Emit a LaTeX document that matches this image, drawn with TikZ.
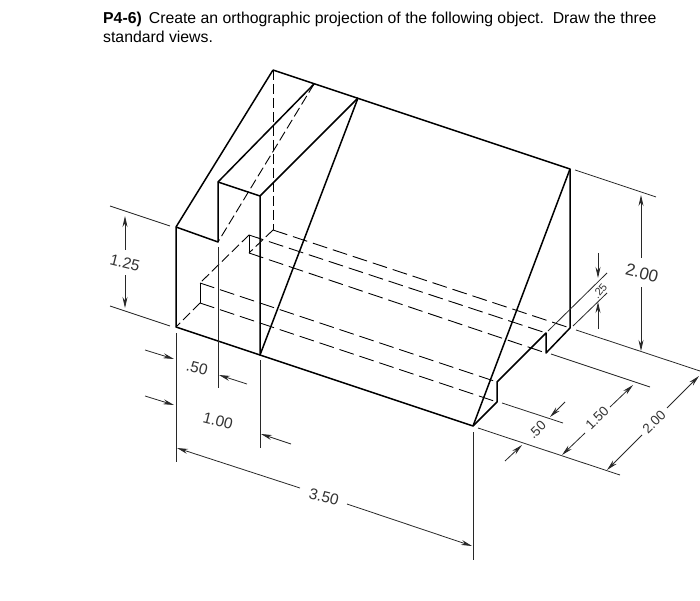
\documentclass[tikz,border=0pt]{standalone}
\usepackage{fontspec}
\setmainfont{Liberation Sans}
\usepackage{tikz}
\usetikzlibrary{arrows.meta}
\definecolor{edge_dim}{RGB}{40,40,40}
\definecolor{text_dim}{RGB}{50,50,50}

\begin{document}
\begin{tikzpicture}[x=1pt,y=-1pt,>={Stealth[length=11pt,width=5pt]}]
    \tikzstyle{obj}=[draw=black, line width=1.5pt, line join=round]
    \tikzstyle{hid}=[draw=black, line width=0.9pt, dash pattern=on 15pt off 6pt]
    \tikzstyle{hidshort}=[draw=black, line width=0.9pt, dash pattern=on 10pt off 4pt]
    \tikzstyle{dim}=[draw=edge_dim, line width=0.8pt]
    \tikzstyle{val}=[text=text_dim, inner sep=0pt, rotate=-14, font=\fontsize{15.5}{17}\selectfont]
    \tikzstyle{valdepth}=[text=text_dim, inner sep=0pt, rotate=45, font=\fontsize{13.5}{15}\selectfont]

    \useasboundingbox (0,0) rectangle (700,601);

    \node[anchor=north west, align=left, inner sep=0pt, font=\fontsize{15.8}{19}\selectfont] (title) at (103,12)
      {\textbf{P4-6)}\, Create an orthographic projection of the following object.\ \ Draw the three\\standard views.};

    % corners of the object
    \coordinate (back)   at (273,70);
    \coordinate (notch)  at (314,84);
    \coordinate (ridge)  at (358,98);
    \coordinate (topr)   at (570,169);
    \coordinate (left)   at (176,227);
    \coordinate (step)   at (218,242);
    \coordinate (stepa)  at (218,182);
    \coordinate (stepb)  at (260,196);
    \coordinate (botl)   at (176,327);
    \coordinate (botm)   at (260,355);
    \coordinate (botr)   at (473,426);
    \coordinate (r1)     at (570,328);
    \coordinate (r2)     at (546,353);
    \coordinate (r3)     at (546,333);
    \coordinate (r4)     at (497,382);
    \coordinate (r5)     at (497,402);
    % hidden corners
    \coordinate (h1)     at (273,230);
    \coordinate (h2)     at (249,235);
    \coordinate (h3)     at (249,253);
    \coordinate (h4)     at (200,283);
    \coordinate (h5)     at (200,303);

    \path[obj] (back) -- (left) -- (botl) -- (botr) -- (r5) -- (r4) -- (r3) -- (r2) -- (r1) -- (topr) -- (back);
    \path[obj] (left) -- (step) -- (stepa) -- (notch);
    \path[obj] (stepa) -- (stepb) -- (ridge);
    \path[obj] (stepb) -- (botm) -- (ridge);
    \path[obj] (botr) -- (topr);

    \path[hidshort] (back) -- (h1);
    \path[hidshort] (notch) -- (step);
    \path[hidshort] (h2) -- (h4);
    \path[hidshort] (h5) -- (botl);
    \path[hidshort] (h1) -- (h3);
    \path[draw=black, line width=0.9pt] (h2) -- (h3);
    \path[draw=black, line width=0.9pt] (h4) -- (h5);
    \path[hid] (h1) -- (r1);
    \path[hid] (h2) -- (r3);
    \path[hid] (h3) -- (r2);
    \path[hid] (h4) -- (r4);
    \path[hid] (h5) -- (r5);

    % 1.25
    \draw[dim] (110,206) -- (170,226);
    \draw[dim] (110,306) -- (170,326);
    \node[val] (d125) at (125,263) {1.25};
    \draw[dim,<-] (125,216) -- (125,250);
    \draw[dim,->] (125,275) -- (125,308);

    % left extensions
    \draw[dim] (176,333) -- (176,462);
    \draw[dim] (218,247) -- (218,388);
    \draw[dim] (260,360) -- (260,448);
    \draw[dim] (473,432) -- (473,560);

    % .50
    \node[val] (d50a) at (197,368) {.50};
    \draw[dim,->] (145,350) -- (174,359);
    \draw[dim,->] (247,384) -- (219,375);
    % 1.00
    \node[val] (d100a) at (218,421) {1.00};
    \draw[dim,->] (145,396) -- (174,405);
    \draw[dim,->] (291,444) -- (261,434);
    % 3.50
    \node[val] (d350) at (324,497) {3.50};
    \draw[dim,<-] (177,448) -- (300,488);
    \draw[dim,->] (347,504) -- (472,546);

    % 2.00 height
    \draw[dim] (575,170) -- (656,197);
    \draw[dim] (576,330) -- (700,371);
    \node[val,font=\fontsize{17}{19}\selectfont] (d200a) at (642,273) {2.00};
    \draw[dim,<-] (641,195) -- (641,258);
    \draw[dim,->] (641,287) -- (641,351);

    % .25
    \draw[dim] (548,331) -- (607,273);
    \draw[dim] (573,326) -- (607,293);
    \node[valdepth,rotate=5,font=\fontsize{11}{12}\selectfont] (d25) at (600,291) {.25};
    \draw[dim,->] (598,253) -- (598,278);
    \draw[dim,->] (598,329) -- (598,302);

    % depth extensions
    \draw[dim] (502,403) -- (563,423);
    \draw[dim] (478,428) -- (620,475);
    \draw[dim] (551,354) -- (650,387);

    % .50
    \node[valdepth] (d50b) at (537,430) {.50};
    \draw[dim,->] (565,402) -- (550,417);
    \draw[dim,->] (505,461) -- (522,445);
    % 1.50
    \node[valdepth] (d150) at (597,418) {1.50};
    \draw[dim,->] (610,407) -- (633,385);
    \draw[dim,->] (585,433) -- (562,455);
    % 2.00 depth
    \node[valdepth] (d200b) at (654,422) {2.00};
    \draw[dim,->] (667,408) -- (699,376);
    \draw[dim,->] (642,435) -- (607,470);
\end{tikzpicture}
\end{document}
